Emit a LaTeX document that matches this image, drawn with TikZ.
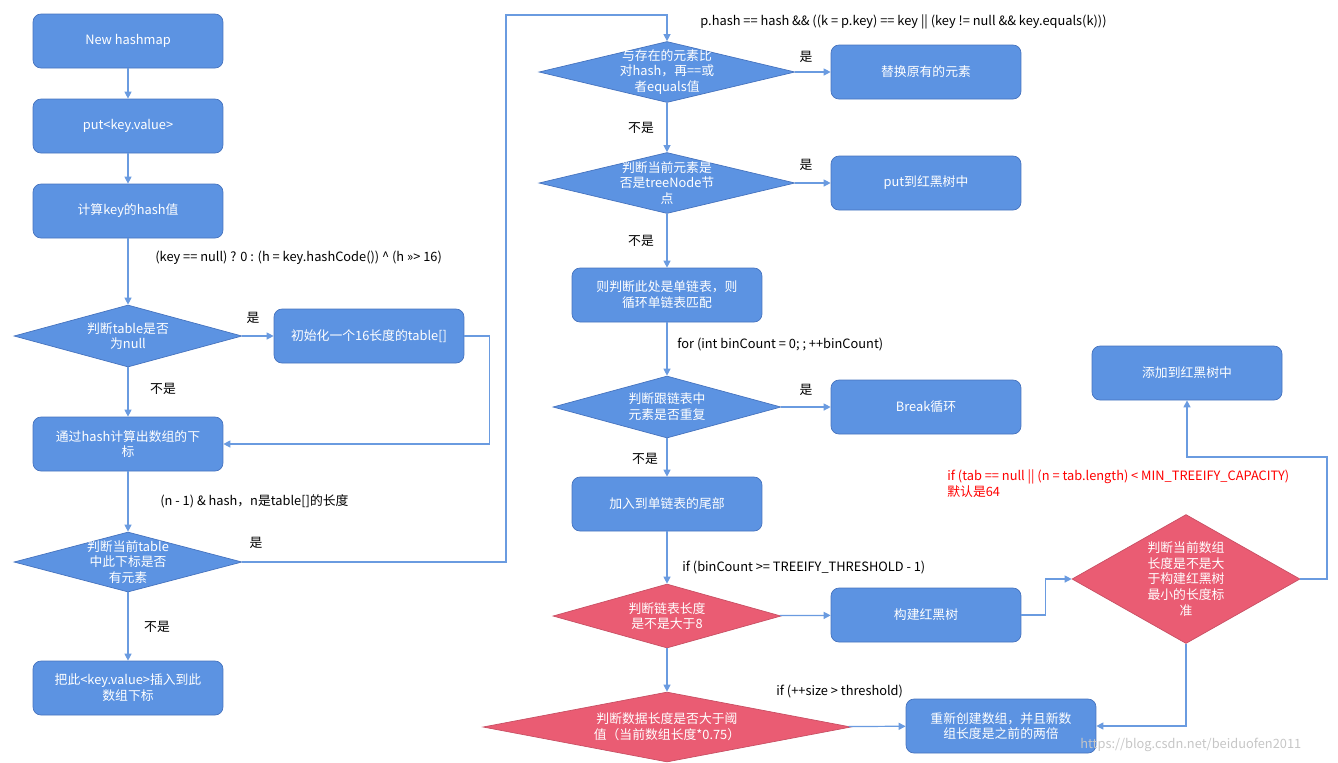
\documentclass[tikz,border=0pt]{standalone}
\usepackage{fontspec}
\setmainfont{Noto Sans CJK SC}
\usetikzlibrary{shapes.geometric,arrows.meta}
\definecolor{boxblue}{RGB}{92,147,226}
\definecolor{boxedge}{RGB}{70,115,190}
\definecolor{boxred}{RGB}{234,92,115}
\definecolor{rededge}{RGB}{200,80,100}
\definecolor{linkblue}{RGB}{106,155,224}

\begin{document}
\begin{tikzpicture}[x=0.02cm,y=-0.02cm,font=\fontsize{7.3pt}{9pt}\selectfont]
  \tikzset{
    box/.style={draw=boxedge, fill=boxblue, rounded corners=0.16cm, minimum width=3.8cm, minimum height=1.08cm, text=white, align=center, inner sep=1pt},
    dia/.style={draw=boxedge, fill=boxblue, diamond, inner sep=0pt},
    rdia/.style={draw=rededge, fill=boxred, diamond, inner sep=0pt},
    dtext/.style={text=white, align=center},
    arr/.style={draw=linkblue, line width=0.7pt, -{Triangle[length=4pt,width=4pt]}},
    note/.style={anchor=west, inner sep=0pt, align=left}
  }
  \useasboundingbox (0,0) rectangle (1338,762);

  % left column
  \node[box] (newmap) at (128,41) {New hashmap};
  \node[box] (put) at (128,126) {put<key.value>};
  \node[box] (hash) at (128,211) {计算key的hash值};
  \node[dia, minimum width=4.56cm, minimum height=1.24cm, label={[dtext]center:判断table是否\\为null}] (isnull) at (128,336) {};
  \node[box] (init) at (369,336) {初始化一个16长度的table[]};
  \node[box] (idx) at (128,444) {通过hash计算出数组的下\\标};
  \node[dia, minimum width=4.56cm, minimum height=1.2cm, label={[dtext]center:判断当前table\\中此下标是否\\有元素}] (hasel) at (128,562) {};
  \node[box] (insert) at (128,688) {把此<key.value>插入到此\\数组下标};

  % middle column
  \node[dia, minimum width=5.12cm, minimum height=1.22cm, label={[dtext]center:与存在的元素比\\对hash，再==或\\者equals值}] (cmp) at (667,72) {};
  \node[box] (replace) at (926,72) {替换原有的元素};
  \node[dia, minimum width=5.12cm, minimum height=1.22cm, label={[dtext]center:判断当前元素是\\否是treeNode节\\点}] (istree) at (667,183) {};
  \node[box] (puttree) at (926,183) {put到红黑树中};
  \node[box] (list) at (667,295) {则判断此处是单链表，则\\循环单链表匹配};
  \node[dia, minimum width=4.56cm, minimum height=1.24cm, label={[dtext]center:判断跟链表中\\元素是否重复}] (dup) at (667,407) {};
  \node[box] (brk) at (926,407) {Break循环};
  \node[box] (tail) at (667,504) {加入到单链表的尾部};
  \node[rdia, minimum width=4.56cm, minimum height=1.28cm, label={[dtext]center:判断链表长度\\是不是大于8}] (gt8) at (667,616) {};
  \node[box] (tree) at (926,615) {构建红黑树};
  \node[rdia, minimum width=7.36cm, minimum height=1.4cm, label={[dtext]center:判断数据长度是否大于阈\\值（当前数组长度*0.75）}] (size) at (667,727) {};
  \node[box] (rebuild) at (1001,726) {重新创建数组，并且新数\\组长度是之前的两倍};

  % right column
  \node[box] (addtree) at (1187,373) {添加到红黑树中};
  \node[rdia, minimum width=4.56cm, minimum height=2.58cm, label={[dtext]center:判断当前数组\\长度是不是大\\于构建红黑树\\最小的长度标\\准}] (cap) at (1186,579) {};

  % notes
  \node[note] (n1) at (155,258) {(key == null) ? 0 : (h = key.hashCode()) \^{} (h >>> 16)};
  \node[note] (n2) at (160,501) {(n - 1) \& hash，n是table[]的长度};
  \node[note] (n3) at (700,22) {p.hash == hash \&\& ((k = p.key) == key || (key != null \&\& key.equals(k)))};
  \node[note] (n4) at (677,344) {for (int binCount = 0; ; ++binCount)};
  \node[note] (n5) at (682,567) {if (binCount >= TREEIFY\_THRESHOLD - 1)};
  \node[note] (n6) at (776,691) {if (++size > threshold)};
  \node[note, text=red] (n7) at (947,484) {if (tab == null || (n = tab.length) < MIN\_TREEIFY\_CAPACITY)\\默认是64};
  \node[note, text=gray!45] (wm) at (1080,745) {https://blog.csdn.net/beiduofen2011};

  % yes / no labels
  \node (y1) at (253,318) {是};
  \node (no1) at (163,389) {不是};
  \node (y2) at (256,543) {是};
  \node (no2) at (157,627) {不是};
  \node (y3) at (806,57) {是};
  \node (no3) at (641,128) {不是};
  \node (y4) at (806,165) {是};
  \node (no4) at (641,241) {不是};
  \node (y5) at (806,390) {是};
  \node (no5) at (645,459) {不是};

  % corner points
  \coordinate (c1) at (506,15);
  \coordinate (c2) at (1327,457);

  % connectors
  \draw[arr] (newmap) -- (put);
  \draw[arr] (put) -- (hash);
  \draw[arr] (hash) -- (isnull);
  \draw[arr] (isnull) -- (init);
  \draw[arr] (isnull) -- (idx);
  \draw[arr] (init.east) -- ++(25,0) |- (idx.east);
  \draw[arr] (idx) -- (hasel);
  \draw[arr] (hasel) -- (insert);
  \draw[arr] (hasel.east) -| (c1) -| (cmp.north);
  \draw[arr] (cmp) -- (replace);
  \draw[arr] (cmp) -- (istree);
  \draw[arr] (istree) -- (puttree);
  \draw[arr] (istree) -- (list);
  \draw[arr] (list) -- (dup);
  \draw[arr] (dup) -- (brk);
  \draw[arr] (dup) -- (tail);
  \draw[arr] (tail) -- (gt8);
  \draw[arr] (gt8) -- (tree);
  \draw[arr] (gt8) -- (size);
  \draw[arr] (size) -- (rebuild);
  \draw[arr] (tree.east) -- ++(24,0) |- (cap.west);
  \draw[arr] (cap.east) -| (c2) -| (addtree.south);
  \draw[arr] (cap.south) |- (rebuild.east);
\end{tikzpicture}
\end{document}
